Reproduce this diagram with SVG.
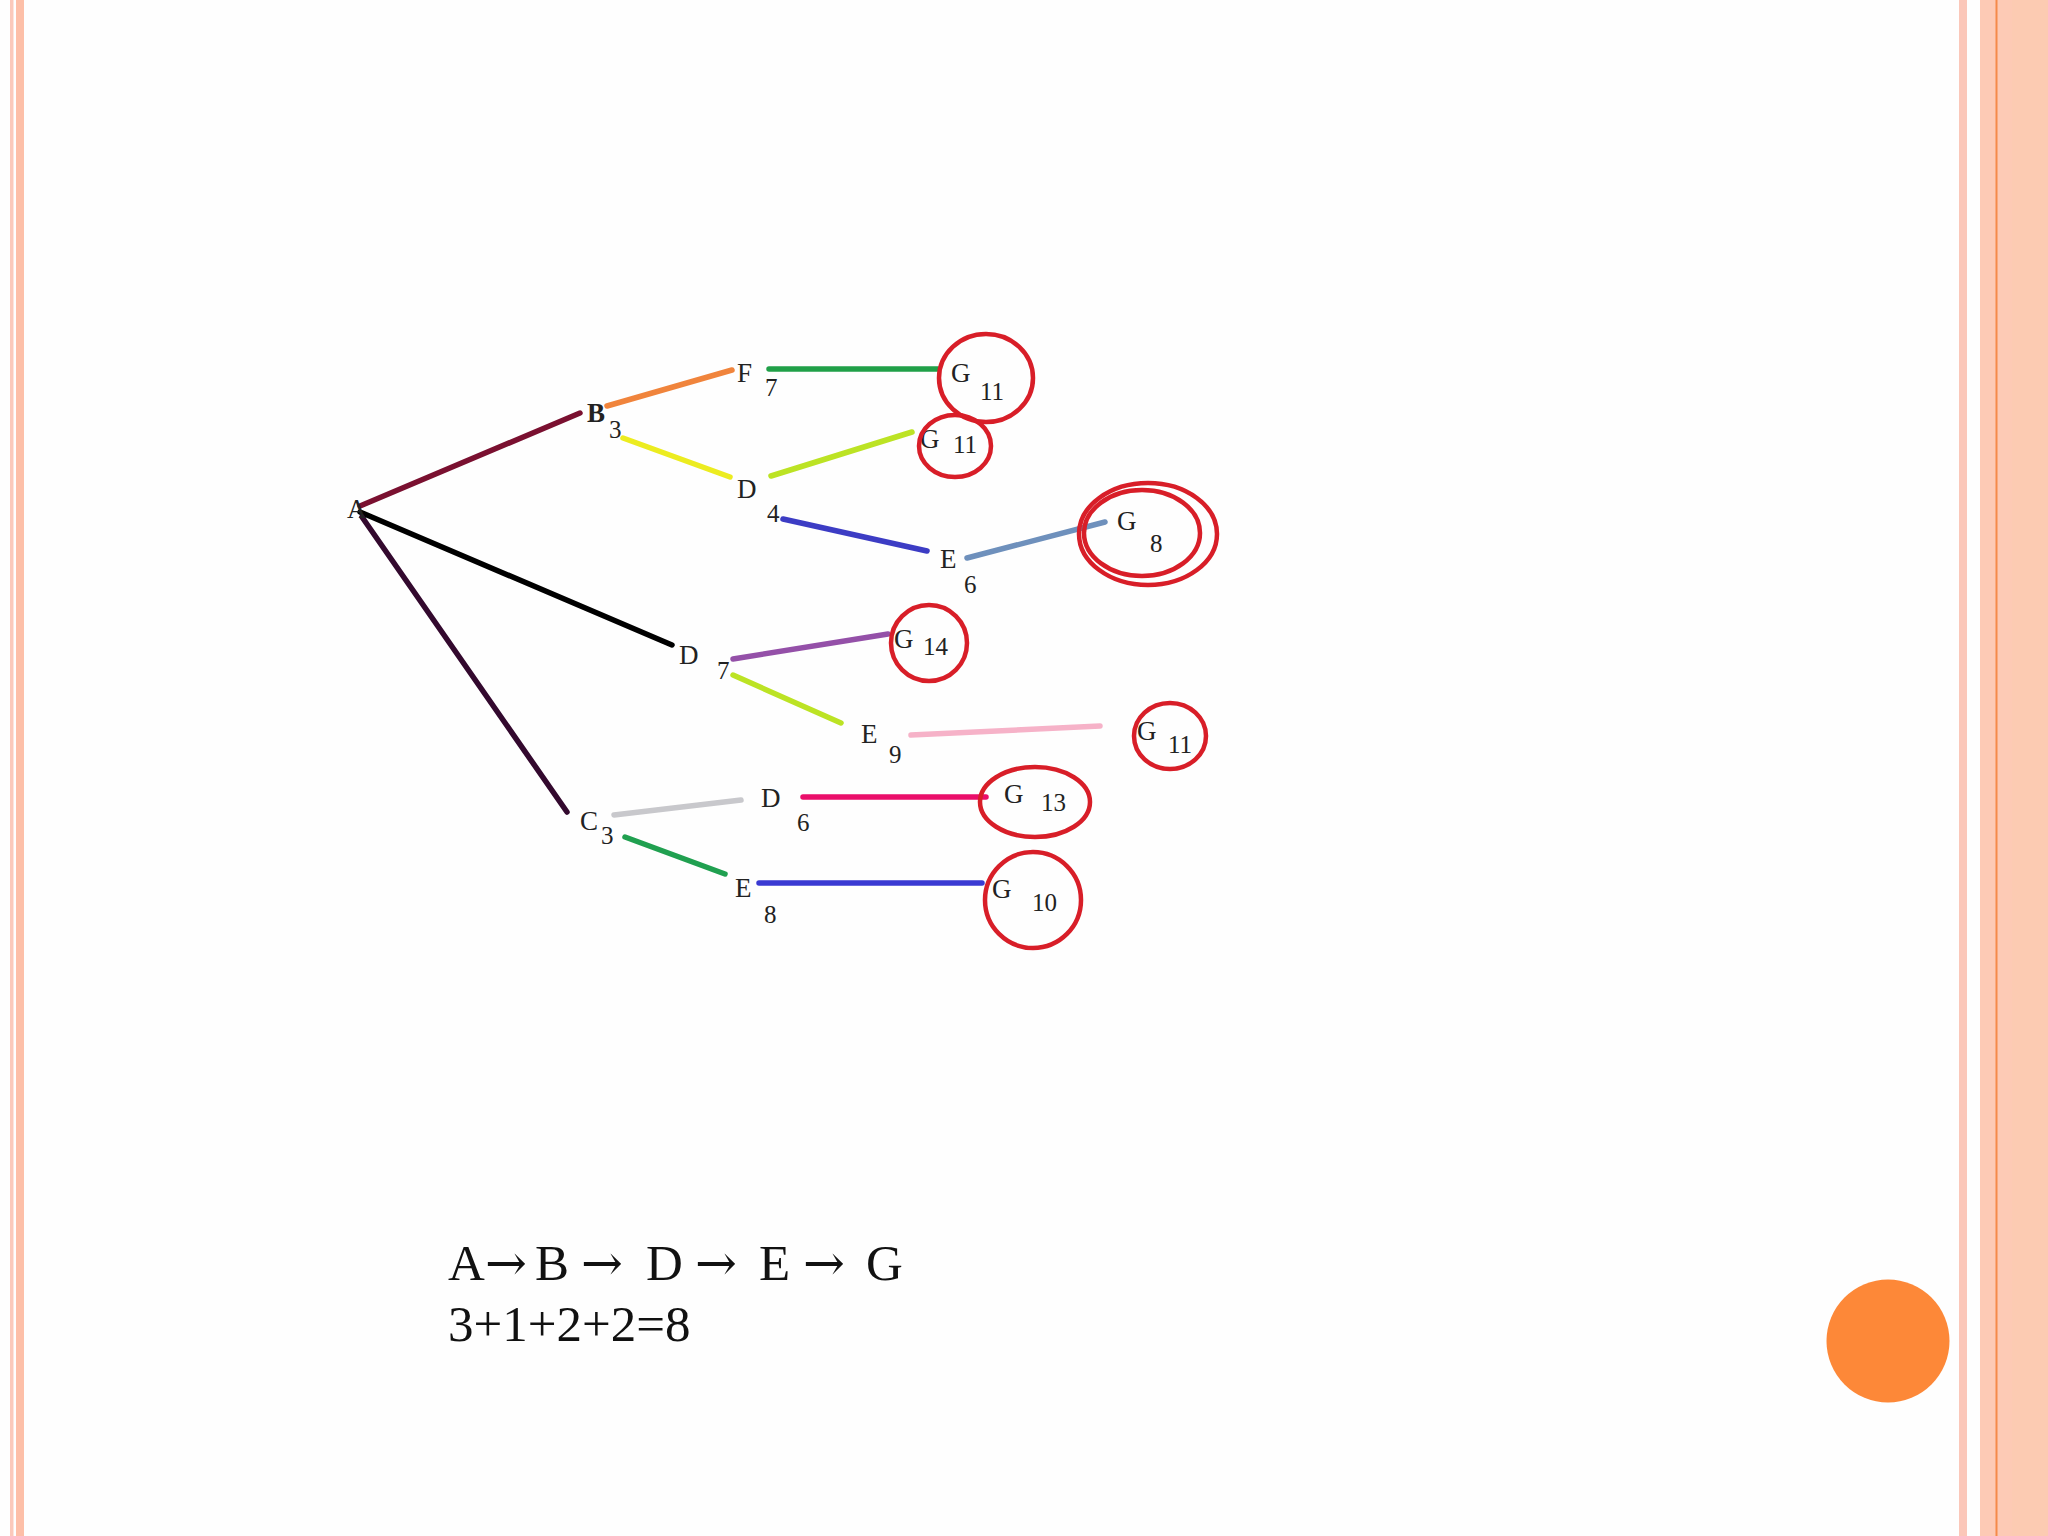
<svg xmlns="http://www.w3.org/2000/svg" width="2048" height="1536" viewBox="0 0 2048 1536">
<style>
.lbl{font-family:"Liberation Serif","Times New Roman",serif;font-size:27px;fill:#222}
.num{font-family:"Liberation Serif","Times New Roman",serif;font-size:25px;fill:#222}
.ring{fill:none;stroke:#d81e28;stroke-width:4.5}
.edge{fill:none;stroke-width:5.5;stroke-linecap:round}
.big{font-family:"Liberation Serif","Times New Roman",serif;font-size:51px;fill:#111}
.arr{font-family:"DejaVu Serif","DejaVu Sans",serif;font-size:50px}
</style>
<rect x="0" y="0" width="2048" height="1536" fill="#fefefe"/>
<g id="frame">
<rect x="10" y="0" width="3.5" height="1536" fill="#fbc9bb"/>
<rect x="16" y="0" width="8" height="1536" fill="#fdbfa8"/>
<rect x="1959" y="0" width="8" height="1536" fill="#fbc7b9"/>
<rect x="1980" y="0" width="68" height="1536" fill="#fdcab5"/>
<rect x="2012" y="0" width="36" height="1536" fill="#fccbb2"/>
<rect x="1995.5" y="0" width="2" height="1536" fill="#f58a4a"/>
<circle cx="1888" cy="1341" r="61.5" fill="#fd8838"/>
</g>
<g id="connectors">
<line class="edge" x1="360" y1="506" x2="580" y2="413" stroke="#7a1030"/>
<line class="edge" x1="360" y1="512" x2="672" y2="645" stroke="#000"/>
<line class="edge" x1="362" y1="517" x2="567" y2="812" stroke="#33092e"/>
<line class="edge" x1="607" y1="406" x2="732" y2="370" stroke="#f0843c"/>
<line class="edge" x1="769" y1="369" x2="938" y2="369" stroke="#20a048"/>
<line class="edge" x1="623" y1="438" x2="730" y2="477" stroke="#ecec20"/>
<line class="edge" x1="771" y1="476" x2="912" y2="432" stroke="#bce324"/>
<line class="edge" x1="783" y1="519" x2="927" y2="551" stroke="#3c3cc4"/>
<line class="edge" x1="967" y1="558" x2="1105" y2="522" stroke="#6e90bc"/>
<line class="edge" x1="733" y1="659" x2="888" y2="634" stroke="#9450a8"/>
<line class="edge" x1="733" y1="675" x2="841" y2="723" stroke="#bce324"/>
<line class="edge" x1="911" y1="735" x2="1100" y2="726" stroke="#f6b2c8"/>
<line class="edge" x1="614" y1="815" x2="741" y2="800" stroke="#c8c8cc"/>
<line class="edge" x1="803" y1="797" x2="986" y2="797" stroke="#ea0e6a"/>
<line class="edge" x1="625" y1="837" x2="725" y2="874" stroke="#20a050"/>
<line class="edge" x1="759" y1="883" x2="982" y2="883" stroke="#3a3ad2"/>
</g>
<g id="node-A"><text class="lbl" x="347" y="518">A</text></g>
<g id="node-B"><text class="lbl" x="587" y="422" font-weight="bold">B</text><text class="num" x="609" y="438">3</text></g>
<g id="node-F"><text class="lbl" x="737" y="382">F</text><text class="num" x="765" y="396">7</text></g>
<g id="node-G1"><text class="lbl" x="951" y="382">G</text><text class="num" x="980" y="400">11</text><ellipse class="ring" cx="986" cy="378" rx="47" ry="44"/></g>
<g id="node-D1"><text class="lbl" x="737" y="498">D</text><text class="num" x="767" y="522">4</text></g>
<g id="node-G2"><text class="lbl" x="920" y="448">G</text><text class="num" x="953" y="453">11</text><ellipse class="ring" cx="955" cy="446" rx="36" ry="31"/></g>
<g id="node-E1"><text class="lbl" x="940" y="568">E</text><text class="num" x="964" y="593">6</text></g>
<g id="node-G3"><text class="lbl" x="1117" y="530">G</text><text class="num" x="1150" y="552">8</text><ellipse class="ring" cx="1148" cy="534" rx="69" ry="51"/><ellipse class="ring" cx="1142" cy="533" rx="58" ry="43"/></g>
<g id="node-D2"><text class="lbl" x="679" y="664">D</text><text class="num" x="717" y="679">7</text></g>
<g id="node-G4"><text class="lbl" x="894" y="648">G</text><text class="num" x="923" y="655">14</text><ellipse class="ring" cx="929" cy="643" rx="38" ry="38"/></g>
<g id="node-E2"><text class="lbl" x="861" y="743">E</text><text class="num" x="889" y="763">9</text></g>
<g id="node-G5"><text class="lbl" x="1137" y="740">G</text><text class="num" x="1168" y="753">11</text><ellipse class="ring" cx="1170" cy="736" rx="36" ry="33"/></g>
<g id="node-C"><text class="lbl" x="580" y="830">C</text><text class="num" x="601" y="844">3</text></g>
<g id="node-D3"><text class="lbl" x="761" y="807">D</text><text class="num" x="797" y="831">6</text></g>
<g id="node-G6"><text class="lbl" x="1004" y="803">G</text><text class="num" x="1041" y="811">13</text><ellipse class="ring" cx="1035" cy="802" rx="55" ry="35"/></g>
<g id="node-E3"><text class="lbl" x="735" y="897">E</text><text class="num" x="764" y="923">8</text></g>
<g id="node-G7"><text class="lbl" x="992" y="898">G</text><text class="num" x="1032" y="911">10</text><ellipse class="ring" cx="1033" cy="900" rx="48" ry="48"/></g>
<g id="summary">
<text class="big" y="1280"><tspan x="448">A</tspan><tspan class="arr" x="485">→</tspan><tspan x="535">B</tspan><tspan class="arr" x="581">→</tspan><tspan x="646">D</tspan><tspan class="arr" x="695">→</tspan><tspan x="759">E</tspan><tspan class="arr" x="803">→</tspan><tspan x="866">G</tspan></text>
<text class="big" x="448" y="1341">3+1+2+2=8</text>
</g>
</svg>
